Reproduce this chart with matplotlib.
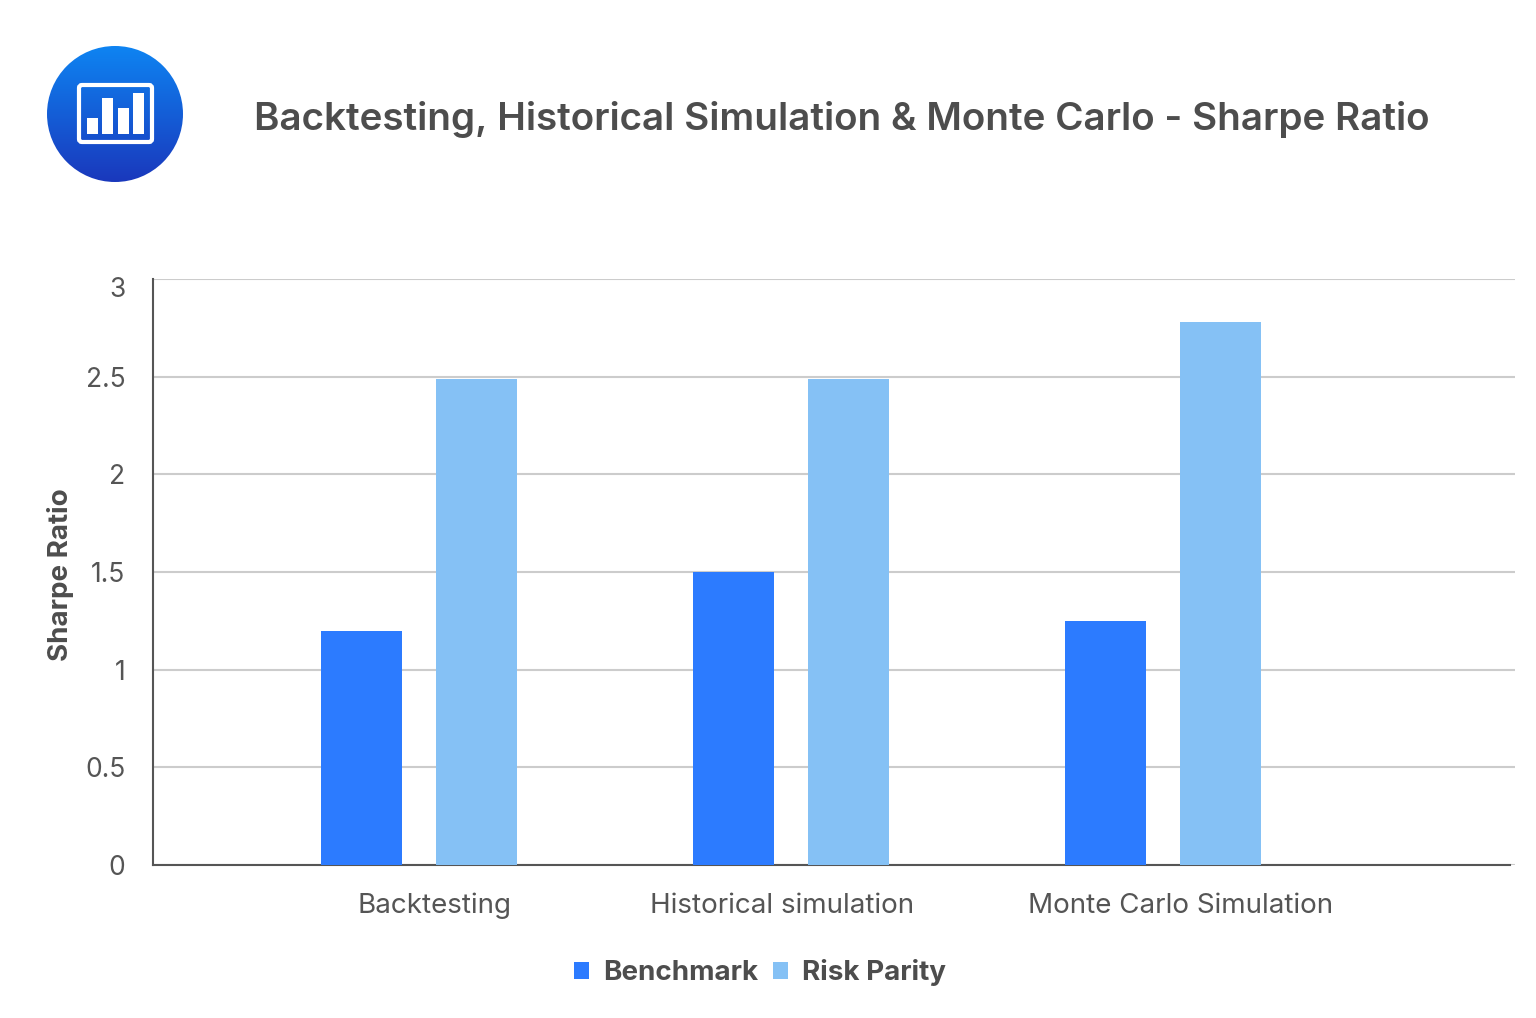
import numpy as np
import matplotlib
matplotlib.use("Agg")
import matplotlib.pyplot as plt
from matplotlib.patches import Circle, FancyBboxPatch, Rectangle
from matplotlib.transforms import ScaledTranslation

# ── Data ──────────────────────────────────────────────────────────────────────

categories = ["Backtesting", "Historical simulation", "Monte Carlo Simulation"]
benchmark = [1.2, 1.5, 1.25]
risk_parity = [2.49, 2.49, 2.78]
y_ticks = [0, 0.5, 1, 1.5, 2, 2.5, 3]
y_labels = ["0", "0.5", "1", "1.5", "2", "2.5", "3"]
icon_bars = [16, 36, 26, 41]

# ── Style ─────────────────────────────────────────────────────────────────────

W, H = 1536, 1018
TEXT = "#555555"
DARK = "#4d4d4d"
BLUE = "#2c7bff"
LIGHT = "#85c1f5"

plt.rcParams["font.family"] = ["Inter", "DejaVu Sans"]

fig = plt.figure(figsize=(W / 100, H / 100), dpi=100, facecolor="white")

# plot area in pixels
left, right, top, bottom = 153, 1515, 279, 865
ax = fig.add_axes([left / W, 1 - bottom / H, (right - left) / W, (bottom - top) / H])

x = np.arange(len(categories))
bar_w = 0.218
offset = 0.1546

ax.set_axisbelow(True)
bars_a = ax.bar(x - offset, benchmark, bar_w, color=BLUE, label="Benchmark", zorder=3)
bars_b = ax.bar(x + offset, risk_parity, bar_w, color=LIGHT, label="Risk Parity", zorder=3)

ax.set_xlim(-0.715, 2.946)
ax.set_ylim(0, 3)
ax.set_yticks(y_ticks, y_labels, fontsize=19, color=TEXT)
ax.tick_params(axis="y", length=0, pad=20)
ax.yaxis.grid(True, color="#cccccc", linewidth=1.5)

# top label sits a little under its grid line in the original
top_label = ax.get_yticklabels()[-1]
top_label.set_transform(top_label.get_transform()
                        + ScaledTranslation(0, -8 / 100, fig.dpi_scale_trans))

# category labels are not centred on the groups in the original
ax.set_xticks([0.043, 0.976, 2.046], categories, fontsize=20, color=TEXT)
ax.tick_params(axis="x", length=0, pad=20)

for side in ["top", "right"]:
    ax.spines[side].set_visible(False)
for side in ["left", "bottom"]:
    ax.spines[side].set_color("#555555")
    ax.spines[side].set_linewidth(1.5)
ax.spines["bottom"].set_bounds(-0.715, 2.932)

ax.set_ylabel("Sharpe Ratio", fontsize=20, fontweight="bold", color=DARK, labelpad=0)
ax.yaxis.set_label_coords((74 - left) / (right - left), (bottom - 575) / (bottom - top))

ax.legend(handles=[bars_a, bars_b], loc="center", ncol=2, frameon=False,
          bbox_to_anchor=((760 - left) / (right - left), (bottom - 973) / (bottom - top)),
          prop={"size": 20, "weight": "bold"}, labelcolor=DARK,
          handlelength=0.54, handleheight=0.54, handletextpad=0.5, columnspacing=0.55)

# ── Header (pixel coordinates) ────────────────────────────────────────────────

over = fig.add_axes([0, 0, 1, 1], facecolor="none")
over.set_xlim(0, W)
over.set_ylim(H, 0)
over.axis("off")

over.text(842, 119, "Backtesting, Historical Simulation & Monte Carlo - Sharpe Ratio",
          fontsize=27.8, fontweight="semibold", color=DARK, ha="center", va="center")

# round icon with vertical gradient
gradient = np.linspace(0, 1, 256)[:, None, None]
c_top = np.array([0x0e, 0x84, 0xf2]) / 255
c_bot = np.array([0x1a, 0x38, 0xbc]) / 255
img = c_top + (c_bot - c_top) * gradient
im = over.imshow(img, extent=[47, 183, 182, 46], aspect="auto", zorder=1)
im.set_clip_path(Circle((115, 114), 68, transform=over.transData))
over.set_xlim(0, W)
over.set_ylim(H, 0)

over.add_patch(FancyBboxPatch((79, 85), 73, 57, boxstyle="round,pad=0,rounding_size=3",
                              facecolor="none", edgecolor="white", linewidth=3, zorder=2))
for i, h in enumerate(icon_bars):
    over.add_patch(Rectangle((87 + i * 15.4, 134), 11, -h, facecolor="white", zorder=2))

fig.savefig("out.png", dpi=100, facecolor="white")
